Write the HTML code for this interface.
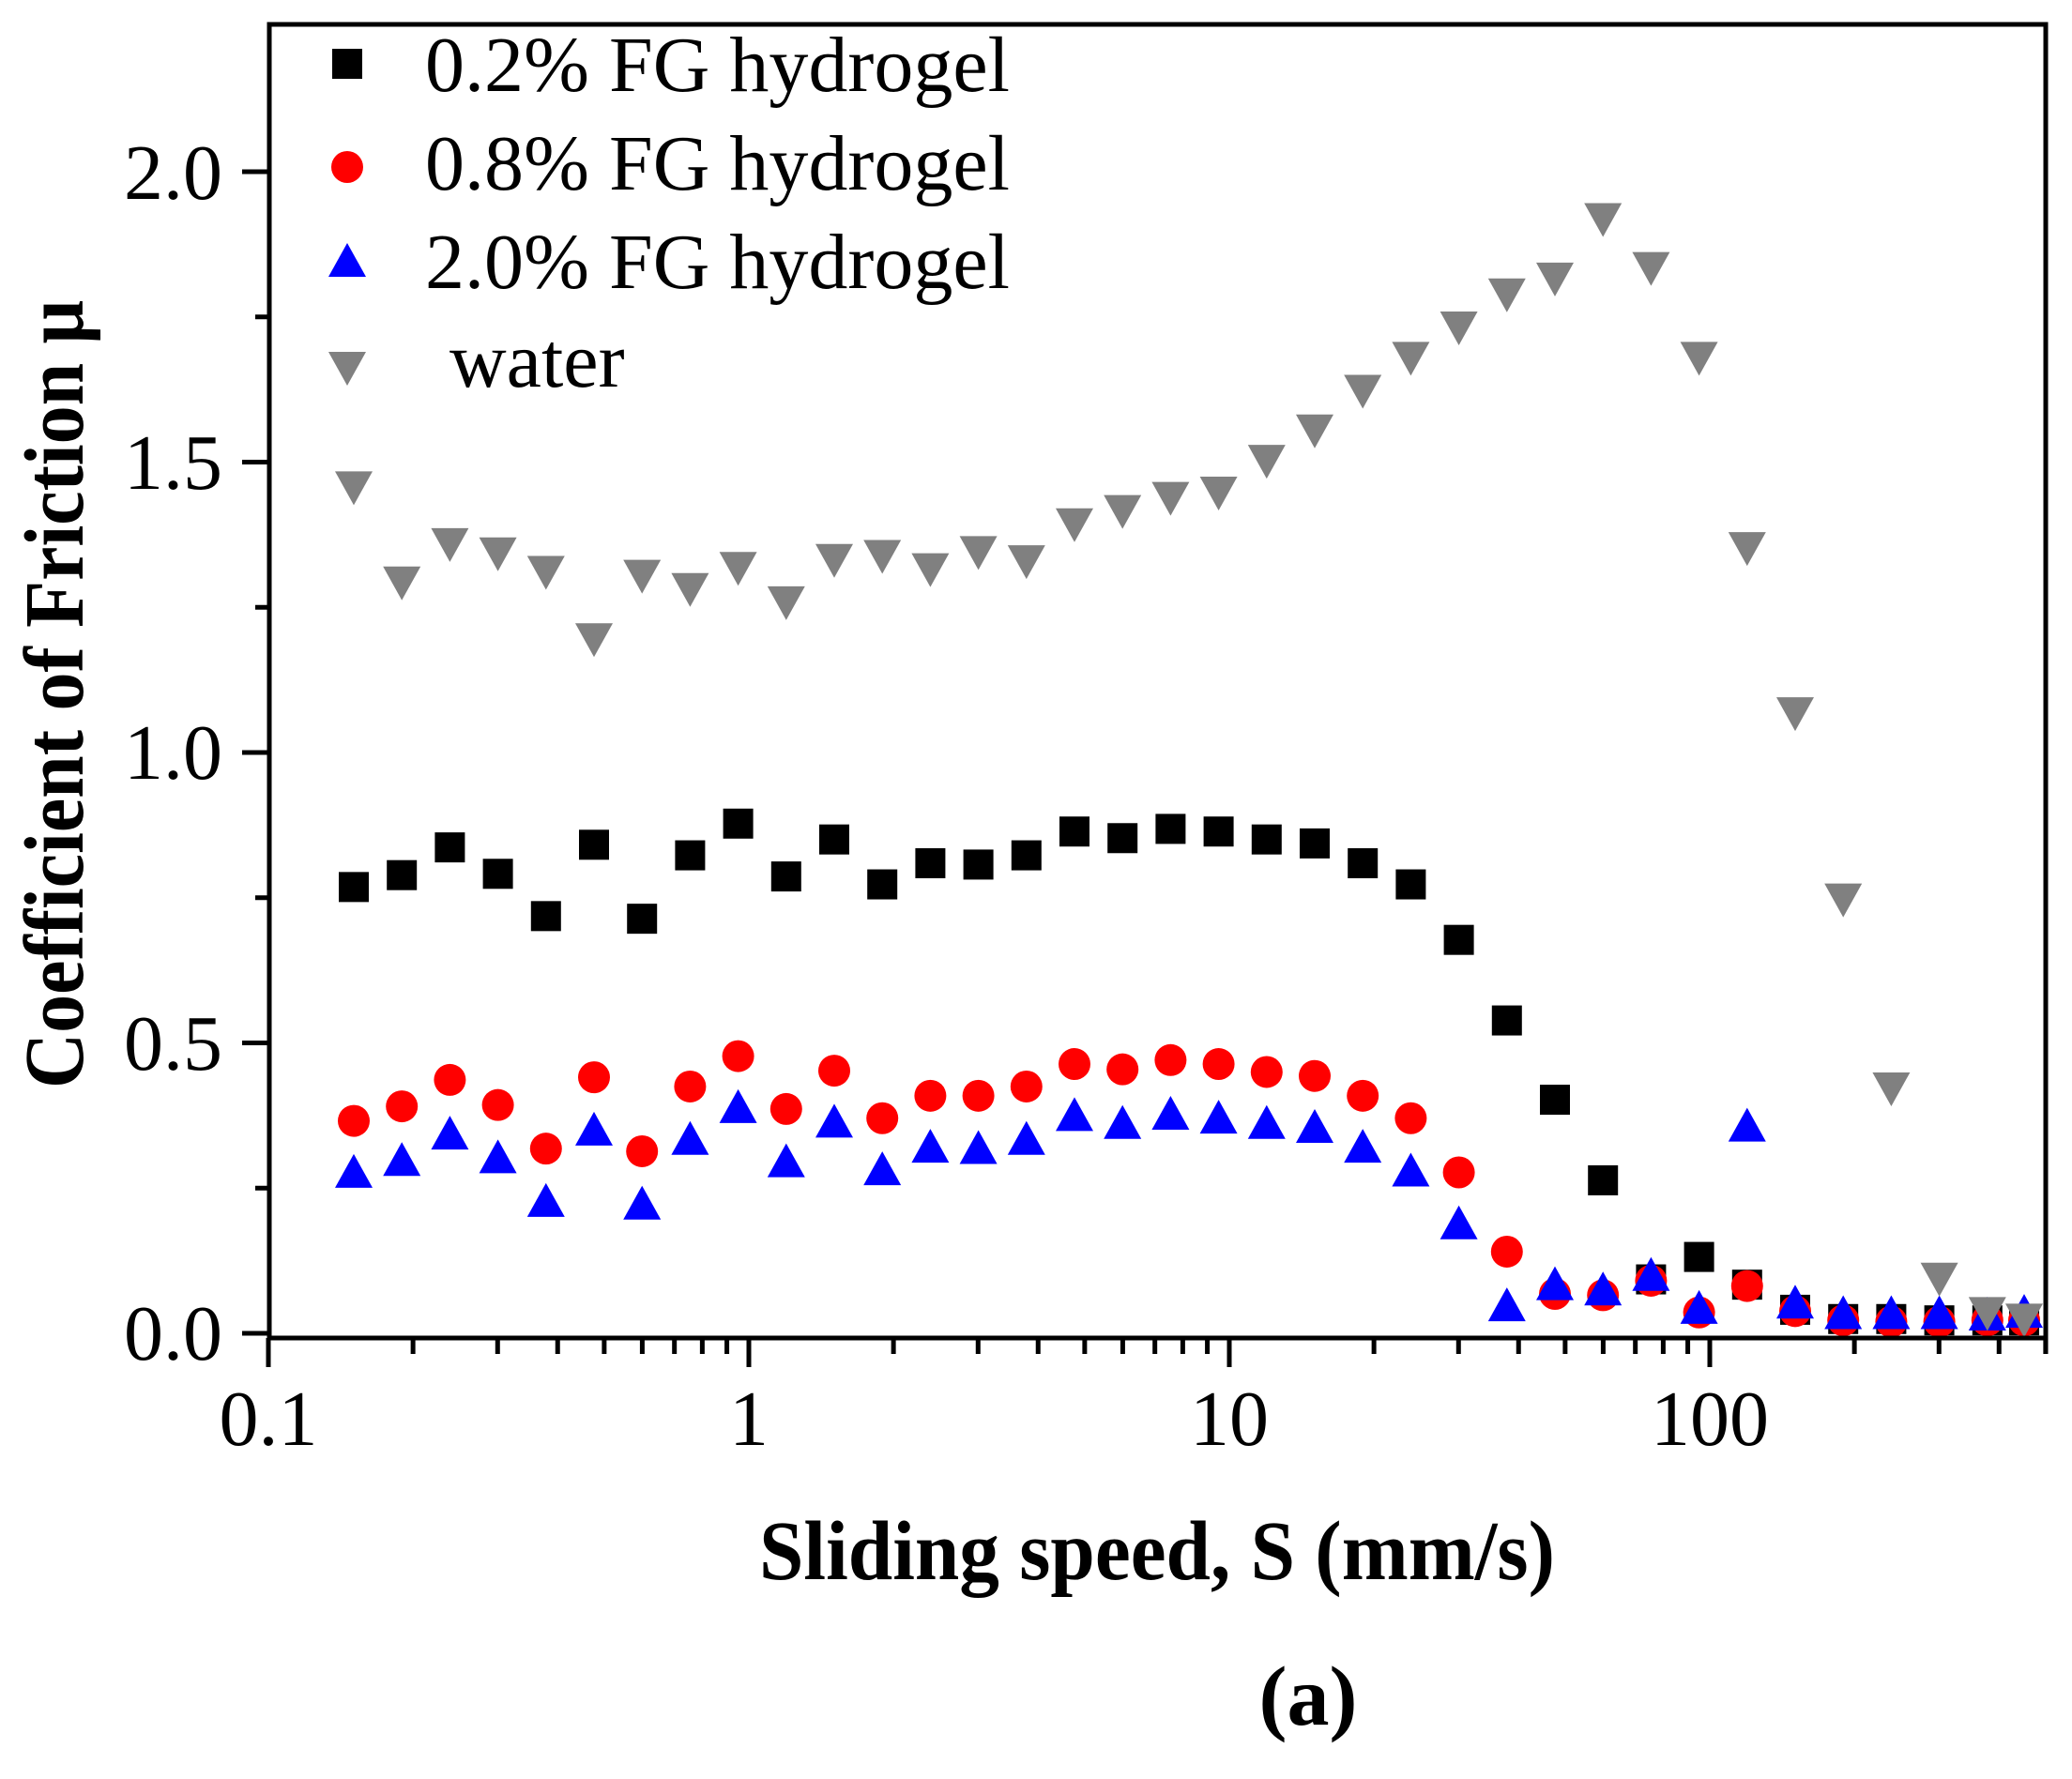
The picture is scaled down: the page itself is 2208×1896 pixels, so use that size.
<!DOCTYPE html>
<html><head><meta charset="utf-8"><style>html,body{margin:0;padding:0;background:#fff}svg{display:block}</style></head>
<body>
<svg id="s" width="2208" height="1896" viewBox="0 0 2208 1896" xmlns="http://www.w3.org/2000/svg" font-family="'Liberation Serif',serif">
<rect width="2208" height="1896" fill="#fff"/>
<g id="pts"></g>
<rect x="287" y="26" width="1893" height="1400" fill="none" stroke="#000" stroke-width="5"/>
<g stroke="#000" stroke-width="5" id="ticks"></g>
<g font-size="84" text-anchor="end">
<text x="237" y="1449">0.0</text>
<text x="237" y="1140">0.5</text>
<text x="237" y="830">1.0</text>
<text x="237" y="521">1.5</text>
<text x="237" y="212">2.0</text>
</g>
<g font-size="84" text-anchor="middle">
<text x="286" y="1540">0.1</text>
<text x="798" y="1540">1</text>
<text x="1310" y="1540">10</text>
<text x="1822" y="1540">100</text>
</g>
<g font-size="84">
<text x="453" y="97">0.2% FG hydrogel</text>
<text x="453" y="202">0.8% FG hydrogel</text>
<text x="453" y="307">2.0% FG hydrogel</text>
<text x="479" y="412">water</text>
</g>
<rect x="354" y="52" width="32" height="32" fill="#000"/>
<circle cx="370" cy="178" r="17" fill="#f00"/>
<polygon points="350,295 390,295 370,259" fill="#00f"/>
<polygon points="350,375 390,375 370,411" fill="#808080"/>
<text x="1233" y="1683" font-size="90" font-weight="bold" text-anchor="middle" textLength="848" lengthAdjust="spacingAndGlyphs">Sliding speed, S (mm/s)</text>
<text x="1394" y="1838" font-size="90" font-weight="bold" text-anchor="middle">(a)</text>
<text transform="translate(88,740) rotate(-90)" font-size="90" font-weight="bold" text-anchor="middle" textLength="840" lengthAdjust="spacingAndGlyphs">Coefficient of Friction μ</text>
</svg>
<script>
var NS="http://www.w3.org/2000/svg";
function el(t,a,p){var e=document.createElementNS(NS,t);for(var k in a)e.setAttribute(k,a[k]);p.appendChild(e);return e;}
var tk=document.getElementById('ticks');
for(var i=0;i<=8;i++){var v=i*0.25;var y=1421-619*v;var maj=(i%2==0);el('line',{x1:maj?258:272,x2:287,y1:y,y2:y},tk);}
function X(s){return 286+512*Math.log10(s/0.1);}
[0.1,1,10,100].forEach(function(d){for(var m=1;m<10;m++){var s=d*m;var x=X(s);if(x>2181)break;el('line',{x1:x,x2:x,y1:1426,y2:m==1?1457:1443},tk);}});
el('line',{x1:2180,x2:2180,y1:1426,y2:1443},tk);
var sq=[670,661,640,660,692,638,694,646,622,662,634,668,652,653,646,628,633,626,628,634,637,652,668,710,771,831,892,967,950,971,990,997,997,998,998,998];
var rc=[847,836,816,835,868,814,870,821,798,838,809,845,828,828,821,804,808,801,804,810,813,828,845,886,946,978,979,968,992,972,991,998,999,999,998,998];
var bt=[887,878,858,876,909,855,911,862,838,879,849,885,868,869,862,844,850,843,846,850,853,868,886,926,988,972,976,965,990,852,986,994,994,994,995,993];
var gt=[366,438,409,416,430,481,433,443,427,453,421,418,428,415,422,394,384,374,370,346,323,293,268,245,220,208,163,200,268,412,537,678,821,965,991,996];
var g=document.getElementById('pts');
function px(k){return k==35?2157:377+51.2*k;}
function py(d){return d*1.408+2;}
var n=36;
for(var k=0;k<n;k++){var x=px(k),y=py(sq[k]);el('rect',{x:x-16,y:y-16,width:32,height:32,fill:'#000'},g);}
for(var k=0;k<n;k++){var x=px(k),y=py(rc[k]);el('circle',{cx:x,cy:y,r:17,fill:'#f00'},g);}
for(var k=0;k<n;k++){var x=px(k),y=py(bt[k]);el('polygon',{points:(x-20)+','+(y+15)+' '+(x+20)+','+(y+15)+' '+x+','+(y-21),fill:'#00f'},g);}
for(var k=0;k<n;k++){var x=px(k),y=py(gt[k]);el('polygon',{points:(x-20)+','+(y-15)+' '+(x+20)+','+(y-15)+' '+x+','+(y+21),fill:'#808080'},g);}
</script>
</body></html>
